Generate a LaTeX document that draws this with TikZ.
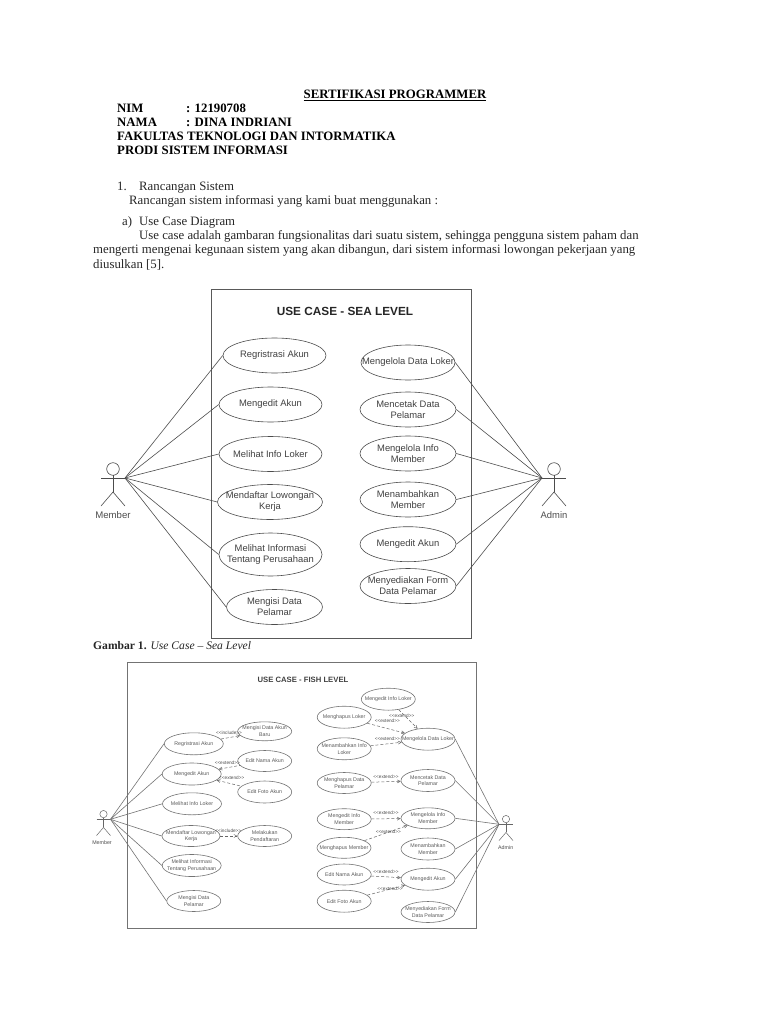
\documentclass[tikz,border=0pt]{standalone}
\usepackage{fontspec}
\setmainfont{Liberation Serif}
\newfontfamily\diagfont{Liberation Sans}
\usetikzlibrary{arrows.meta,shapes.geometric,positioning}

\begin{document}
\begin{tikzpicture}[x=1pt, y=-1pt, >={Straight Barb[length=3pt,width=3pt]},
  every node/.style={inner sep=0pt},
  bodytext/.style={anchor=base west, font=\fontsize{12.8}{14}\selectfont, text=black!85},
  boldtext/.style={bodytext, font=\fontsize{12.8}{14}\selectfont\bfseries, text=black},
  sealine/.style={draw=black!70, line width=0.6pt},
  fishline/.style={draw=black!55, line width=0.6pt},
  seacase/.style={ellipse, sealine, inner sep=-15pt, minimum width=96pt, minimum height=35pt, align=center,
    font=\diagfont\fontsize{9.4}{11}\selectfont, text=black!75},
  fishcase/.style={ellipse, fishline, inner sep=-15pt, minimum width=54pt, minimum height=21pt, align=center,
    font=\diagfont\fontsize{5.3}{6.6}\selectfont, text=black!65},
  dep/.style={draw=black!60, densely dashed, line width=0.5pt},
  deplabel/.style={font=\diagfont\fontsize{4.7}{5}\selectfont, text=black!70},
  actorlabel/.style={font=\diagfont\fontsize{#1}{#1}\selectfont, text=black!70},
  stickman/.pic={
    \draw (0,-9) circle (6.3);
    \draw (0,-2.7) -- (0,14);
    \draw (-12,0) -- (12,0);
    \draw (-12,28) -- (0,14) -- (12,28);
  }]
  \useasboundingbox (0,0) rectangle (768,1024);

  % Heading
  \node[boldtext, anchor=base] (heading) at (395,98.5) {\underline{SERTIFIKASI PROGRAMMER}};
  \node[boldtext] (nim) at (117,112.5) {NIM};
  \node[boldtext] (nimval) at (186,112.5) {: 12190708};
  \node[boldtext] (nama) at (117,127) {NAMA};
  \node[boldtext] (namaval) at (186,127) {: DINA INDRIANI};
  \node[boldtext] (fakultas) at (117,141) {FAKULTAS TEKNOLOGI DAN INTORMATIKA};
  \node[boldtext] (prodi) at (117,155) {PRODI SISTEM INFORMASI};

  % Body text
  \node[bodytext] (num) at (117,190.5) {1.};
  \node[bodytext] (rancangan) at (139,190.5) {Rancangan Sistem};
  \node[bodytext] (kalimat) at (129,204.5) {Rancangan sistem informasi yang kami buat menggunakan :};
  \node[bodytext] (suba) at (122,225.5) {a)};
  \node[bodytext] (usecase) at (139,225.5) {Use Case Diagram};
  \node[bodytext] (parsatu) at (139,239.5) {Use case adalah gambaran fungsionalitas dari suatu sistem, sehingga pengguna sistem paham dan};
  \node[bodytext] (pardua) at (93,253.5) {mengerti mengenai kegunaan sistem yang akan dibangun, dari sistem informasi lowongan pekerjaan yang};
  \node[bodytext] (partiga) at (93,268.5) {diusulkan [5].};
  \node[bodytext, font=\fontsize{11.6}{13}\selectfont] (gambar) at (93,649) {\textbf{Gambar 1.} \textit{Use Case -- Sea Level}};

  % Sea level boundary
  \node[draw=black!65, line width=0.8pt, minimum width=260pt, minimum height=349pt] (seabox) at (341,464) {};
  \node[font=\diagfont\fontsize{11.8}{13}\selectfont\bfseries, text=black!85] (seatitle) at (345,311) {USE CASE - SEA LEVEL};

  % Sea level, member side
  \node[seacase, minimum width=103pt] (regristrasi) at (274.5,355.5) {Regristrasi Akun};
  \node[seacase, minimum width=103pt] (mengadit) at (270.5,404.5) {Mengedit Akun};
  \node[seacase, minimum width=103pt] (infoloker) at (270.5,454) {Melihat Info Loker};
  \node[seacase, minimum width=105pt] (mendaftar) at (270,502) {Mendaftar Lowongan\\Kerja};
  \node[seacase, minimum width=103pt, minimum height=43pt] (informasi) at (270.5,554.5) {Melihat Informasi\\Tentang Perusahaan};
  \node[seacase] (mengisi) at (274.5,607) {Mengisi Data\\Pelamar};

  % Sea level, admin side
  \node[seacase, minimum width=94pt] (kelolaloker) at (408,362.5) {Mengelola Data Loker};
  \node[seacase] (cetak) at (408,409.5) {Mencetak Data\\Pelamar};
  \node[seacase] (kelolamember) at (408,453.5) {Mengelola Info\\Member};
  \node[seacase] (tambahmember) at (408,499.5) {Menambahkan\\Member};
  \node[seacase] (editakun) at (408,544.2) {Mengedit Akun};
  \node[seacase] (formdata) at (408,586) {Menyediakan Form\\Data Pelamar};

  % Sea level actors
  \pic[black!70, line width=0.6pt] at (113,478) {stickman};
  \coordinate (member) at (125,478);
  \node[actorlabel=9.6] (memberlabel) at (113,515) {Member};
  \pic[black!70, line width=0.6pt] at (554,478) {stickman};
  \coordinate (admin) at (542,478);
  \node[actorlabel=9.4] (adminlabel) at (554,515) {Admin};

  \foreach \u in {regristrasi,mengadit,infoloker,mendaftar,informasi,mengisi}
    \draw[sealine] (member) -- (\u.west);
  \foreach \u in {kelolaloker,cetak,kelolamember,tambahmember,editakun,formdata}
    \draw[sealine] (admin) -- (\u.east);

  % Fish level boundary
  \node[draw=black!55, line width=0.7pt, minimum width=349pt, minimum height=266pt] (fishbox) at (302.2,795.7) {};
  \node[font=\diagfont\fontsize{7.7}{9}\selectfont\bfseries, text=black!75] (fishtitle) at (303,680) {USE CASE - FISH LEVEL};

  % Fish level, member side
  \node[fishcase, minimum width=59pt, minimum height=22pt] (fregristrasi) at (193.8,743.8) {Regristrasi Akun};
  \node[fishcase, minimum width=59pt, minimum height=22pt] (fmengadit) at (191.7,774) {Mengedit Akun};
  \node[fishcase, minimum width=59pt, minimum height=22pt] (finfoloker) at (192,803.8) {Melihat Info Loker};
  \node[fishcase, minimum width=58pt] (fmendaftar) at (191,836) {Mendaftar Lowongan\\Kerja};
  \node[fishcase, minimum width=59pt, minimum height=22pt] (finformasi) at (191.7,865.5) {Melihat Informasi\\Tentang Perusahaan};
  \node[fishcase] (fmengisi) at (193.8,901) {Mengisi Data\\Pelamar};
  \node[fishcase, minimum height=19pt] (fbaru) at (264.7,731.3) {Mengisi Data Akun\\Baru};
  \node[fishcase] (fnama) at (264.7,761) {Edit Nama Akun};
  \node[fishcase, minimum height=22pt] (ffoto) at (264.7,792) {Edit Foto Akun};
  \node[fishcase] (fdaftar) at (264.7,836) {Melakukan\\Pendaftaran};

  % Fish level, admin side
  \node[fishcase, minimum height=22pt] (feditinfo) at (388.3,699.2) {Mengedit Info Loker};
  \node[fishcase, minimum height=22pt] (fhapusloker) at (344.2,717.2) {Menghapus Loker};
  \node[fishcase, minimum height=22pt] (ftambahinfo) at (344.2,748.8) {Menambahkan Info\\Loker};
  \node[fishcase] (fhapusdata) at (344.2,783) {Menghapus Data\\Pelamar};
  \node[fishcase] (fedinfomember) at (344.2,819.2) {Mengedit Info\\Member};
  \node[fishcase] (fhapusmember) at (344,847.8) {Menghapus Member};
  \node[fishcase] (fnamaakun) at (344.2,874.5) {Edit Nama Akun};
  \node[fishcase, minimum height=22pt] (ffotoakun) at (344.2,901.2) {Edit Foto Akun};
  \node[fishcase, minimum height=22pt] (fkelolaloker) at (428,739.2) {Mengelola Data Loker};
  \node[fishcase, minimum height=22pt] (fcetak) at (428,780.5) {Mencetak Data\\Pelamar};
  \node[fishcase] (fkelolainfo) at (428,818.3) {Mengelola Info\\Member};
  \node[fishcase, minimum height=22pt] (ftambahmember) at (428,849) {Menambahkan\\Member};
  \node[fishcase, minimum height=22pt] (feditakun) at (428,879.2) {Mengedit Akun};
  \node[fishcase] (fform) at (428,912) {Menyediakan Form\\Data Pelamar};

  % Fish level actors
  \pic[black!60, line width=0.5pt, scale=0.58] at (103.5,819.3) {stickman};
  \coordinate (fmember) at (110.5,819.3);
  \node[actorlabel=5.3] (fmemberlabel) at (102,843) {Member};
  \pic[black!60, line width=0.5pt, scale=0.58] at (506,824.3) {stickman};
  \coordinate (fadmin) at (499,824.3);
  \node[actorlabel=5.3] (fadminlabel) at (505.7,847.7) {Admin};

  \foreach \u in {fregristrasi,fmengadit,finfoloker,fmendaftar,finformasi,fmengisi}
    \draw[fishline] (fmember) -- (\u.west);
  \foreach \u in {fkelolaloker,fcetak,fkelolainfo,ftambahmember,feditakun,fform}
    \draw[fishline] (fadmin) -- (\u.east);

  % Include and extend, member side
  \draw[dep, ->] (fregristrasi) -- (fbaru);
  \draw[dep, <-] (fmengadit) -- (fnama);
  \draw[dep, <-] (fmengadit) -- (ffoto);
  \draw[dep, ->] (fmendaftar) -- (fdaftar);
  \node[deplabel] (la) at (229,732.7) {<{}<include>{}>};
  \node[deplabel] (lb) at (227.3,763.3) {<{}<extend>{}>};
  \node[deplabel] (lc) at (231.7,778.3) {<{}<extend>{}>};
  \node[deplabel] (ld) at (228.3,831) {<{}<include>{}>};

  % Include and extend, admin side
  \draw[dep, ->] (feditinfo) -- (fkelolaloker);
  \draw[dep, ->] (fhapusloker) -- (fkelolaloker);
  \draw[dep, ->] (ftambahinfo) -- (fkelolaloker);
  \draw[dep, ->] (fhapusdata) -- (fcetak);
  \draw[dep, ->] (fedinfomember) -- (fkelolainfo);
  \draw[dep, ->] (fhapusmember) -- (fkelolainfo);
  \draw[dep, ->] (fnamaakun) -- (feditakun);
  \draw[dep, ->] (ffotoakun) -- (feditakun);
  \node[deplabel] (le) at (401.7,716) {<{}<extend>{}>};
  \node[deplabel] (lf) at (387.3,721) {<{}<extend>{}>};
  \node[deplabel] (lg) at (387.3,739) {<{}<extend>{}>};
  \node[deplabel] (lh) at (386,776.7) {<{}<extend>{}>};
  \node[deplabel] (li) at (386,813.3) {<{}<extend>{}>};
  \node[deplabel] (lj) at (388.3,831.7) {<{}<extend>{}>};
  \node[deplabel] (lk) at (386,872.3) {<{}<extend>{}>};
  \node[deplabel] (ll) at (390,889.3) {<{}<extend>{}>};
\end{tikzpicture}
\end{document}
